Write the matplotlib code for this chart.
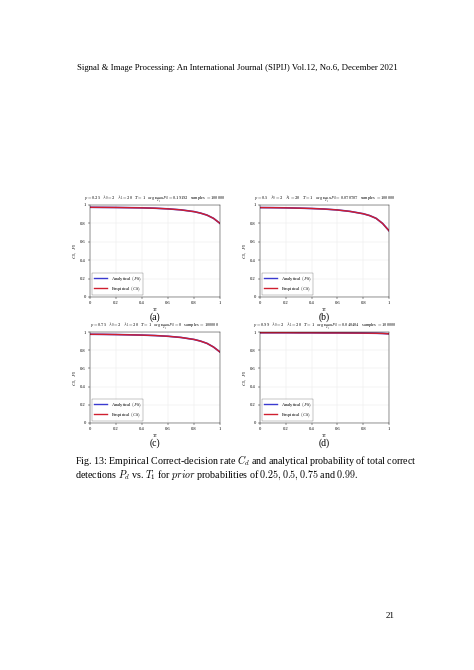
import matplotlib
matplotlib.use("Agg")
import matplotlib.pyplot as plt
import numpy as np
from matplotlib.lines import Line2D

T1 = [0, 0.1, 0.2, 0.3, 0.4, 0.5, 0.6, 0.7, 0.8, 0.85, 0.9, 0.95, 1.0]
pd_a = [0.975, 0.974, 0.973, 0.971, 0.969, 0.965, 0.958, 0.947, 0.928, 0.912, 0.89, 0.855, 0.80]
pd_b = [0.972, 0.971, 0.969, 0.966, 0.962, 0.956, 0.946, 0.93, 0.905, 0.885, 0.855, 0.80, 0.72]
pd_c = [0.975, 0.974, 0.972, 0.969, 0.966, 0.961, 0.953, 0.94, 0.918, 0.9, 0.875, 0.835, 0.78]
pd_d = [0.992, 0.992, 0.992, 0.991, 0.991, 0.99, 0.99, 0.989, 0.988, 0.987, 0.986, 0.984, 0.98]
priors = ["0.25", "0.5", "0.75", "0.99"]
argmax = ["0.19192", "0.070707", "0", "0.040404"]
labels = ["(a)", "(b)", "(c)", "(d)"]
series = [pd_a, pd_b, pd_c, pd_d]

W, H = 474, 670
plt.rcParams['mathtext.fontset'] = 'cm'
serif = 'Liberation Serif'
plt.rcParams['font.family'] = [serif, 'DejaVu Serif']
fig = plt.figure(figsize=(4.74, 6.7), dpi=100)

fig.text(237/W, 1-68/H, "Signal & Image Processing: An International Journal (SIPIJ) Vol.12, No.6, December 2021",
         ha='center', va='center', fontsize=6.3)

boxes = [(90, 205, 220, 297), (260, 205, 389, 297), (90, 332, 220, 423), (260, 332, 389, 423)]
for i, (l, t, r, b) in enumerate(boxes):
    ax = fig.add_axes([l/W, 1-b/H, (r-l)/W, (b-t)/H])
    ax.plot(T1, series[i], color='#3a3ad0', lw=1.2)
    ax.plot(T1, series[i], color='#d01f2f', lw=1.0)
    ax.set_xlim(0, 1); ax.set_ylim(0, 1)
    ax.set_xticks(np.arange(0, 1.01, 0.2)); ax.set_yticks(np.arange(0, 1.01, 0.2))
    ax.set_xticklabels(["0", "0.2", "0.4", "0.6", "0.8", "1"])
    ax.set_yticklabels(["0", "0.2", "0.4", "0.6", "0.8", "1"])
    ax.tick_params(labelsize=3.3, length=1.5, width=0.3, pad=1.5)
    ax.grid(True, color='#e6e6e6', lw=0.3)
    for s in ax.spines.values():
        s.set_linewidth(0.3)
    ax.set_xlabel(r"$T_1$", fontsize=3.5, labelpad=1)
    ax.set_ylabel(r"$C_d,\ P_d$", fontsize=3.5, labelpad=1)
    ax.set_title(r"$p={}$   $\lambda_0=2$   $\lambda_1=20$   $T=1$   $\arg\max_{{T_1}} P_d={}$   samples $=100000$".format(priors[i], argmax[i]),
                 fontsize=3.2, pad=2)
    ax.legend([Line2D([], [], color='#3a3ad0', lw=1), Line2D([], [], color='#d01f2f', lw=1)],
              [r"Analytical $(Pd)$", r"Empirical $(Cd)$"], loc='lower left', fontsize=3.3,
              handlelength=3, frameon=True, fancybox=False, edgecolor='#555555',
              borderpad=0.3, labelspacing=0.2).get_frame().set_linewidth(0.3)
    fig.text((l+r)/2/W, 1-(b+20)/H, labels[i], ha='center', va='center', fontsize=7)

cap = ["Fig. 13: Empirical Correct-decision rate $C_d$ and analytical probability of total correct",
       "detections $P_d$ vs. $T_1$ for $\\it{prior}$ probabilities of $0.25, 0.5, 0.75$ and $0.99$."]
for k, c in enumerate(cap):
    fig.text(75/W, 1-(461+14*k)/H, c, ha='left', va='center', fontsize=7.2)
fig.text(390/W, 1-616/H, "21", ha='center', va='center', fontsize=6.5)
fig.savefig("out.png", dpi=100)
